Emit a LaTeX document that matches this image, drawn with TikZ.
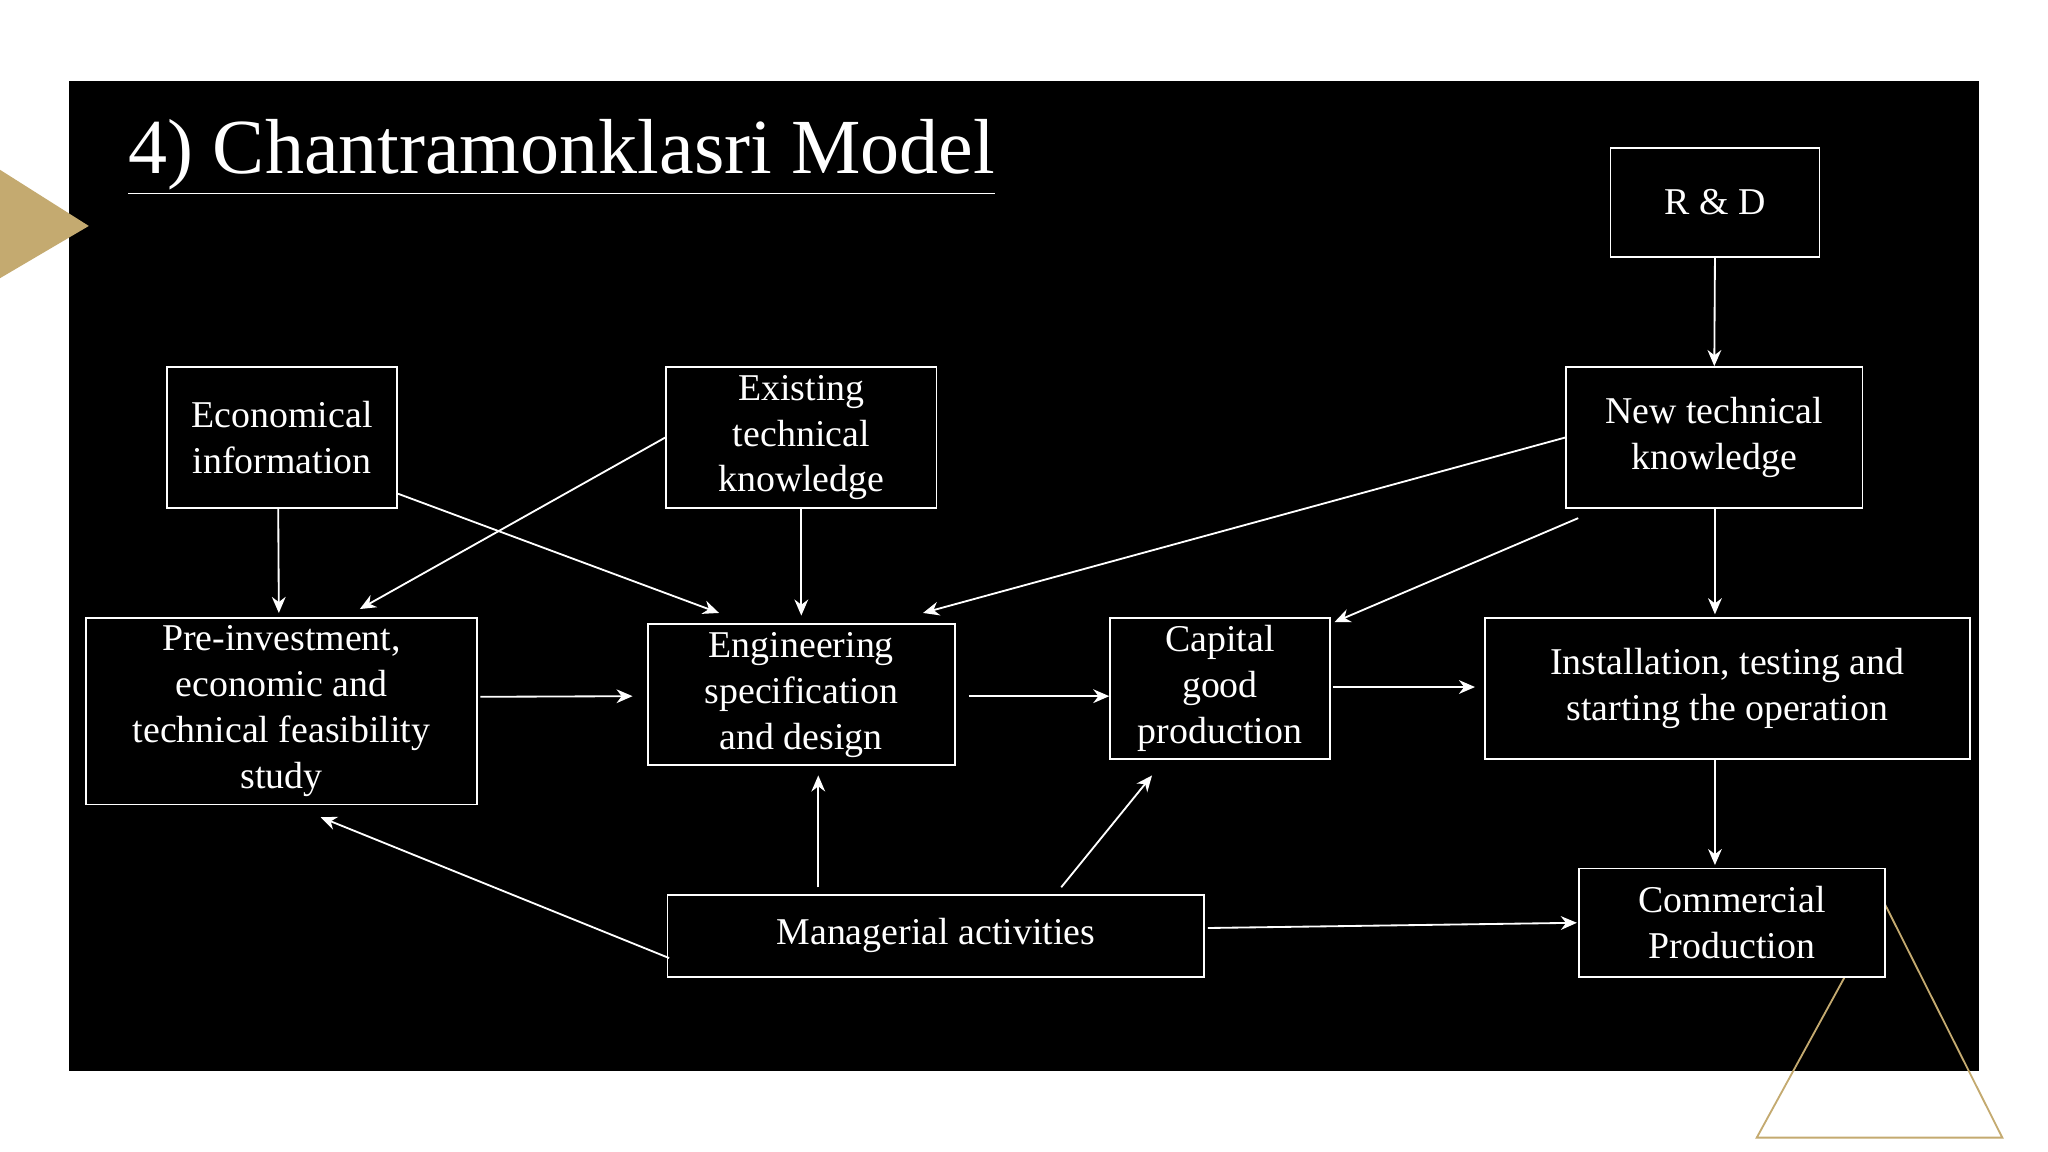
\documentclass[tikz,border=0pt]{standalone}
\usepackage{fontspec}
\setmainfont{Liberation Serif}
\usetikzlibrary{arrows.meta,calc}
\definecolor{gold}{RGB}{196,170,112}
\begin{document}
\begin{tikzpicture}[x=0.02cm,y=-0.02cm,
  box/.style={draw=white,thick,fill=black,text=white,align=center,inner sep=0pt,
    font=\fontsize{16.5}{20}\selectfont},
  arr/.style={white,thick,-{Stealth[length=7pt,width=6pt]}}]
\useasboundingbox (0,0) rectangle (1568,882);
\fill[white] (0,0) rectangle (1568,882);
\fill[black] (53,62) rectangle (1515,820);
\fill[gold] (0,130) -- (68,173) -- (0,213) -- cycle;
\draw[gold,thick] (1443,692) -- (1533,871) -- (1345,871) -- cycle;
\node[anchor=base west,text=white,font=\fontsize{34}{40}\selectfont,inner sep=0pt] (title) at (98,133) {\underline{4) Chantramonklasri Model}};
% boxes
\node[box,minimum width=160*0.02cm,minimum height=84*0.02cm] (rd) at (1313,155) {R \& D};
\node[box,minimum width=176*0.02cm,minimum height=108*0.02cm] (econ) at (216,335) {Economical\\information};
\node[box,minimum width=207*0.02cm,minimum height=108*0.02cm] (exist) at (613.5,335) {Existing\\technical\\knowledge};
\node[box,minimum width=227*0.02cm,minimum height=108*0.02cm] (new) at (1312.5,335) {New technical\\knowledge};
\node[box,minimum width=299*0.02cm,minimum height=143*0.02cm] (pre) at (215.5,544.5) {Pre-investment,\\economic and\\technical feasibility\\study};
\node[box,minimum width=235*0.02cm,minimum height=108*0.02cm] (eng) at (613.5,532) {Engineering\\specification\\and design};
\node[box,minimum width=168*0.02cm,minimum height=108*0.02cm] (cap) at (934,527) {Capital\\good\\production};
\node[box,minimum width=371*0.02cm,minimum height=108*0.02cm] (inst) at (1322.5,527) {Installation, testing and\\starting the operation};
\node[box,minimum width=411*0.02cm,minimum height=63*0.02cm] (man) at (716.5,716.5) {Managerial activities};
\node[box,minimum width=234*0.02cm,minimum height=83*0.02cm] (com) at (1326,706.5) {Commercial\\Production};
% connectors
\draw[arr] (rd.south) -- (new.north);
\draw[arr] (econ.south -| 213,0) -- ($(pre.north)+(-2,-3)$);
\draw[arr] (exist.west) -- ($(pre.north)+(60,-6)$);
\draw[arr] ($(econ.east)+(0,43)$) -- ($(eng.north)+(-63,-8)$);
\draw[arr] (exist.south) -- ($(eng.north)+(0,-6)$);
\draw[arr] (new.west) -- ($(eng.north east)+(-25,-8)$);
\draw[arr] ($(new.south west)+(10,7)$) -- ($(cap.north east)+(3,4)$);
\draw[arr] (new.south -| 1313,0) -- ($(inst.north -| 1313,0)+(0,-2)$);
\draw[arr] ($(pre.east)+(2,-11)$) -- ($(eng.west)+(-11,1)$);
\draw[arr] ($(eng.east)+(10,1)$) -- ($(cap.west)+(0,6)$);
\draw[arr] ($(cap.east)+(2,-1)$) -- ($(inst.west)+(-7,-1)$);
\draw[arr] (inst.south -| 1313,0) -- ($(com.north -| 1313,0)+(0,-2)$);
\draw[arr] ($(man.north)+(-90,-5)$) -- ($(eng.south)+(13,7)$);
\draw[arr] ($(man.north)+(96,-5)$) -- ($(cap.south)+(-52,12)$);
\draw[arr] ($(man.west)+(2,17)$) -- ($(pre.south)+(30,9)$);
\draw[arr] ($(man.east)+(2,-6)$) -- ($(com.west)+(-1,0)$);
\end{tikzpicture}
\end{document}
